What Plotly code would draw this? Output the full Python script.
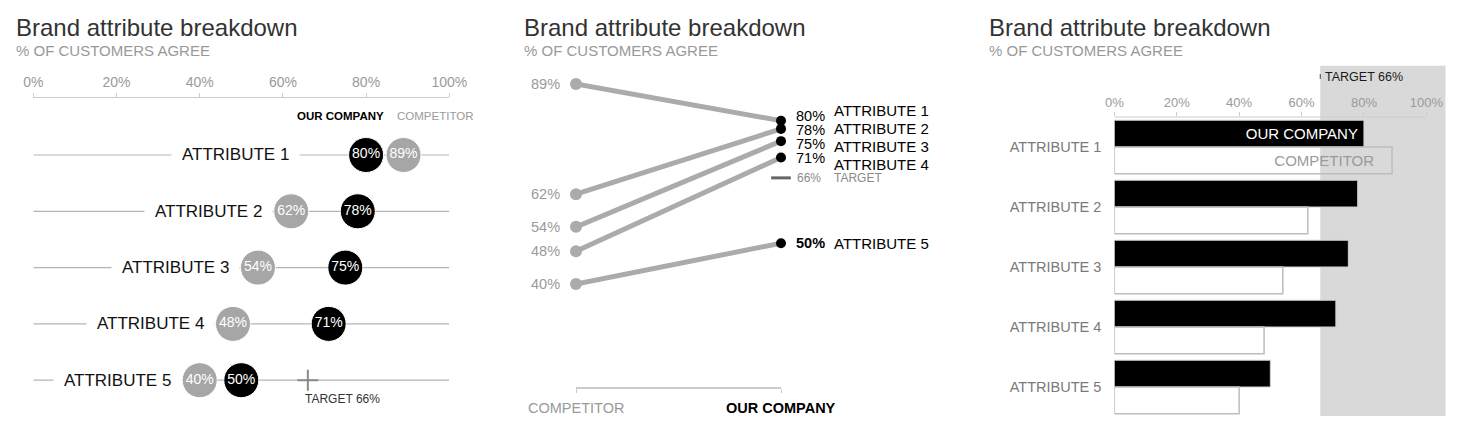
import plotly.graph_objects as go

# ---------------- data ----------------
attributes = ["ATTRIBUTE 1", "ATTRIBUTE 2", "ATTRIBUTE 3", "ATTRIBUTE 4", "ATTRIBUTE 5"]
our_company = [80, 78, 75, 71, 50]
competitor = [89, 62, 54, 48, 40]
target = 66
series_names = ["OUR COMPANY", "COMPETITOR"]
tick_values = [0, 20, 40, 60, 80, 100]
tick_labels = ["0%", "20%", "40%", "60%", "80%", "100%"]
title_text = "Brand attribute breakdown"
subtitle_text = "% OF CUSTOMERS AGREE"
target_word = "TARGET"

# ---------------- style ----------------
W, H = 1479, 434
FONT = "Liberation Sans, Arial, Helvetica, sans-serif"
BLACK = "#000000"
DOT_GRAY = "#a6a6a6"
SLOPE_GRAY = "#ababab"
AXIS_GRAY = "#cccccc"
TICK_TEXT = "#9a9a9a"
TITLE_COLOR = "#333333"
SUB_COLOR = "#999999"
SHADE = "#d9d9d9"


def fx(px):
    return px / W


def fy(px):
    return 1 - px / H


def pct(v):
    return f"{v}%"


fig = go.Figure()
ann = []
shapes = []

# ---------------- titles ----------------
for x0 in (14, 522, 987):
    ann.append(dict(text=title_text, x=fx(x0), y=fy(27), xref="paper", yref="paper",
                    xanchor="left", yanchor="middle", showarrow=False,
                    font=dict(size=24, color=TITLE_COLOR)))
    ann.append(dict(text=subtitle_text, x=fx(x0), y=fy(50), xref="paper", yref="paper",
                    xanchor="left", yanchor="middle", showarrow=False,
                    font=dict(size=15, color=SUB_COLOR)))

# ================= PANEL 1 : dot plot =================
P1_X0, P1_X1, P1_TOP = 33.3, 449.3, 97.7
ROW0, ROW_STEP = 155, 56.3
rows = list(range(len(attributes)))
ppu1 = (P1_X1 - P1_X0) / (tick_values[-1] - tick_values[0])

lx, ly = [], []
for r in rows:
    lx += [tick_values[0], tick_values[-1], None]
    ly += [r, r, None]
fig.add_trace(go.Scatter(x=lx, y=ly, mode="lines", xaxis="x", yaxis="y",
                         line=dict(color="#b5b5b5", width=1.2), hoverinfo="skip"))

fig.add_trace(go.Scatter(x=competitor, y=rows, mode="markers+text", xaxis="x", yaxis="y",
                         marker=dict(size=35, color=DOT_GRAY, line=dict(color="white", width=1)),
                         text=[pct(v) for v in competitor], textposition="middle center",
                         textfont=dict(size=14, color="white"), cliponaxis=False))
fig.add_trace(go.Scatter(x=our_company, y=rows, mode="markers+text", xaxis="x", yaxis="y",
                         marker=dict(size=35, color=BLACK, line=dict(color="white", width=1)),
                         text=[pct(v) for v in our_company], textposition="middle center",
                         textfont=dict(size=14, color="white"), cliponaxis=False))

# target cross on last row
fig.add_trace(go.Scatter(x=[target], y=[rows[-1]], mode="markers", xaxis="x", yaxis="y",
                         marker=dict(symbol="cross-thin", size=15, line=dict(color="#8a8a8a", width=2)),
                         cliponaxis=False, hoverinfo="skip"))
ann.append(dict(text=f"{target_word} {pct(target)}", x=target, y=rows[-1], xref="x", yref="y",
                xanchor="left", yanchor="middle", xshift=-5, yshift=-19, showarrow=False,
                font=dict(size=12, color="#333333")))

# attribute labels with white background, placed left of the lowest dot (or the target)
for r, (o, c) in enumerate(zip(our_company, competitor)):
    lo = min(o, c)
    if lo * ppu1 - 18 <= target * ppu1 - 8:
        ax_x, sh = lo, -18
    else:
        ax_x, sh = target, -8
    ann.append(dict(text=attributes[r], x=ax_x, y=r, xref="x", yref="y",
                    xanchor="right", yanchor="middle", xshift=sh, showarrow=False,
                    bgcolor="white", borderpad=10, font=dict(size=17, color="#111111")))

# legend text
ann.append(dict(text=f"<b>{series_names[0]}</b>", x=fx(386), y=fy(116), xref="paper", yref="paper",
                xanchor="right", yanchor="middle", showarrow=False,
                font=dict(size=11.5, color=BLACK)))
ann.append(dict(text=series_names[1], x=fx(475), y=fy(116), xref="paper", yref="paper",
                xanchor="right", yanchor="middle", showarrow=False,
                font=dict(size=11.5, color=TICK_TEXT)))

# ================= PANEL 2 : slope chart =================
P2_X0, P2_X1 = 576, 781
P2_BOTTOM, P2_TOP = 387, 60
Y2_RANGE = [14.76, 94.88]
ppu2 = (P2_BOTTOM - P2_TOP) / (Y2_RANGE[1] - Y2_RANGE[0])

for c, o in zip(competitor, our_company):
    fig.add_trace(go.Scatter(x=[0, 1], y=[c, o], mode="lines", xaxis="x2", yaxis="y2",
                             line=dict(color=SLOPE_GRAY, width=5), hoverinfo="skip",
                             cliponaxis=False))
fig.add_trace(go.Scatter(x=[0] * len(competitor), y=competitor, mode="markers", xaxis="x2", yaxis="y2",
                         marker=dict(size=12, color=SLOPE_GRAY), cliponaxis=False))
fig.add_trace(go.Scatter(x=[1] * len(our_company), y=our_company, mode="markers", xaxis="x2", yaxis="y2",
                         marker=dict(size=10, color=BLACK), cliponaxis=False))
fig.add_trace(go.Scatter(x=[1], y=[target], mode="markers", xaxis="x2", yaxis="y2",
                         marker=dict(symbol="line-ew", size=14, line=dict(color="#666666", width=3)),
                         cliponaxis=False, hoverinfo="skip"))

for c in competitor:
    ann.append(dict(text=pct(c), x=0, y=c, xref="x2", yref="y2", xanchor="right", yanchor="middle",
                    xshift=-14, showarrow=False, font=dict(size=14.5, color=TICK_TEXT)))


def spread(anchors, gap):
    order = sorted(range(len(anchors)), key=lambda i: anchors[i])
    groups = [[i] for i in order]

    def place(g):
        m = sum(anchors[i] for i in g) / len(g)
        start = m - gap * (len(g) - 1) / 2
        return [start + k * gap for k in range(len(g))]

    changed = True
    while changed:
        changed = False
        for k in range(len(groups) - 1):
            a, b = place(groups[k]), place(groups[k + 1])
            if b[0] - a[-1] < gap - 1e-9:
                groups[k] = groups[k] + groups[k + 1]
                del groups[k + 1]
                changed = True
                break
    out = [0.0] * len(anchors)
    for g in groups:
        for i, p in zip(g, place(g)):
            out[i] = p
    return out


pct_y = spread(our_company, 14 / ppu2)
name_y = spread(our_company, 18 / ppu2)
for i, o in enumerate(our_company):
    txt = f"<b>{pct(o)}</b>" if o < target else pct(o)
    ann.append(dict(text=txt, x=1, y=pct_y[i], xref="x2", yref="y2", xanchor="left", yanchor="middle",
                    xshift=13, showarrow=False, font=dict(size=14.5, color=BLACK)))
    ann.append(dict(text=attributes[i], x=1, y=name_y[i], xref="x2", yref="y2", xanchor="left",
                    yanchor="middle", xshift=51, showarrow=False, font=dict(size=15, color=BLACK)))
ann.append(dict(text=pct(target), x=1, y=target, xref="x2", yref="y2", xanchor="left", yanchor="middle",
                xshift=14, showarrow=False, font=dict(size=12, color="#8a8a8a")))
ann.append(dict(text=target_word, x=1, y=target, xref="x2", yref="y2", xanchor="left", yanchor="middle",
                xshift=51, showarrow=False, font=dict(size=12, color="#8a8a8a")))

ann.append(dict(text=series_names[1], x=0, y=fy(408), xref="x2", yref="paper", xanchor="center",
                yanchor="middle", showarrow=False, font=dict(size=14.5, color=TICK_TEXT)))
ann.append(dict(text=f"<b>{series_names[0]}</b>", x=1, y=fy(408), xref="x2", yref="paper",
                xanchor="center", yanchor="middle", showarrow=False, font=dict(size=14.5, color=BLACK)))

# ================= PANEL 3 : grouped bars =================
P3_X0, P3_X1 = 1114.3, 1445.7
P3_TOP, P3_BOTTOM = 117, 417
X3_MAX = 106.2

fig.add_trace(go.Bar(x=our_company, y=attributes, orientation="h", xaxis="x3", yaxis="y3",
                     name=series_names[0],
                     marker=dict(color=BLACK, line=dict(color="#d0d0d0", width=1)),
                     text=[series_names[0] + "\u2009" if i == 0 else "" for i in rows],
                     textposition="inside", insidetextanchor="end", constraintext="none",
                     textfont=dict(size=15, color="white"), hoverinfo="skip"))
fig.add_trace(go.Bar(x=competitor, y=attributes, orientation="h", xaxis="x3", yaxis="y3",
                     name=series_names[1],
                     marker=dict(color="rgba(255,255,255,0)", line=dict(color="#bdbdbd", width=1.5)),
                     text=[series_names[1] + "\u2003" if i == 0 else "" for i in rows],
                     textposition="inside", insidetextanchor="end", constraintext="none",
                     textfont=dict(size=15, color="#9a9a9a"), hoverinfo="skip"))

shapes.append(dict(type="rect", xref="x3", yref="paper", x0=target, x1=X3_MAX,
                   y0=fy(416), y1=fy(65.7), fillcolor=SHADE, line=dict(width=0), layer="below"))
shapes.append(dict(type="line", xref="x3", yref="y3 domain", x0=tick_values[0], x1=tick_values[-1],
                   y0=1, y1=1, line=dict(color=AXIS_GRAY, width=1)))
shapes.append(dict(type="line", xref="x3", yref="paper", x0=target, x1=target,
                   y0=fy(79), y1=fy(74), line=dict(color="#444444", width=1)))
ann.append(dict(text=f"{target_word} {pct(target)}", x=target, y=fy(77), xref="x3", yref="paper",
                xanchor="left", yanchor="middle", xshift=3, showarrow=False,
                font=dict(size=12.5, color="#1a1a1a")))

# ---------------- layout ----------------
axis_common = dict(showgrid=False, zeroline=False, fixedrange=True, automargin=False)
fig.update_layout(
    width=W, height=H, margin=dict(l=0, r=0, t=0, b=0, pad=0, autoexpand=False),
    paper_bgcolor="white", plot_bgcolor="rgba(0,0,0,0)",
    showlegend=False, font=dict(family=FONT),
    barmode="group", bargap=0.108, bargroupgap=0,
    xaxis=dict(domain=[fx(P1_X0), fx(P1_X1)], range=[tick_values[0], tick_values[-1]], anchor="y",
               side="top", tickvals=tick_values, ticktext=tick_labels, ticks="outside", ticklen=4,
               tickcolor=AXIS_GRAY, showline=True, linecolor=AXIS_GRAY, linewidth=1,
               tickfont=dict(size=14, color=TICK_TEXT), **axis_common),
    yaxis=dict(domain=[0, fy(P1_TOP)], anchor="x", visible=False,
               range=[(H - ROW0) / ROW_STEP, -(ROW0 - P1_TOP) / ROW_STEP], **axis_common),
    xaxis2=dict(domain=[fx(P2_X0), fx(P2_X1)], range=[0, 1], anchor="y2", side="bottom",
                tickvals=[0, 1], showticklabels=False, ticks="outside", ticklen=4,
                tickcolor=AXIS_GRAY, showline=True, linecolor=AXIS_GRAY, linewidth=1.5, **axis_common),
    yaxis2=dict(domain=[fy(P2_BOTTOM), fy(P2_TOP)], range=Y2_RANGE, anchor="x2", visible=False,
                **axis_common),
    xaxis3=dict(domain=[fx(P3_X0), fx(P3_X1)], range=[0, X3_MAX], anchor="y3", side="top",
                tickvals=tick_values, ticktext=tick_labels, ticks="outside", ticklen=4,
                tickcolor=AXIS_GRAY, showline=False, tickfont=dict(size=13, color=TICK_TEXT),
                **axis_common),
    yaxis3=dict(domain=[fy(P3_BOTTOM), fy(P3_TOP)], anchor="x3", type="category",
                categoryorder="array", categoryarray=attributes, autorange="reversed",
                ticks="", ticklabelstandoff=12, showline=False,
                tickfont=dict(size=14.5, color="#7a7a7a"), **axis_common),
    annotations=ann, shapes=shapes,
)

fig.write_html("out.html")
